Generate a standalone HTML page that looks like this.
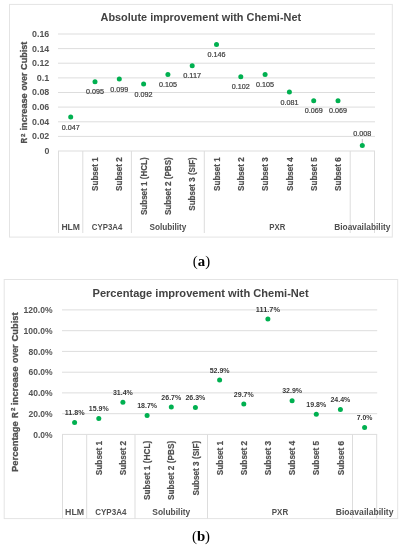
<!DOCTYPE html>
<html lang="en"><head><meta charset="utf-8"><title>Chemi-Net improvement</title>
<style>html,body{margin:0;padding:0;background:#fff}svg{display:block}text{font-family:"Liberation Sans",sans-serif}.cap{font-family:"Liberation Serif",serif}</style>
</head><body>
<svg width="403" height="550" viewBox="0 0 403 550">
<rect width="403" height="550" fill="#fff"/>
<rect x="9.5" y="4.4" width="382.8" height="232.7" fill="#fff" stroke="#e4e4e4" stroke-width="1"/>
<line x1="58.0" x2="375.0" y1="151.0" y2="151.0" stroke="#dddddd" stroke-width="1"/>
<text x="49.3" y="153.9" font-size="8.6" font-weight="bold" text-anchor="end" fill="#545454" textLength="4.9" lengthAdjust="spacingAndGlyphs">0</text>
<line x1="58.0" x2="375.0" y1="136.4" y2="136.4" stroke="#dddddd" stroke-width="1"/>
<text x="49.3" y="139.3" font-size="8.6" font-weight="bold" text-anchor="end" fill="#545454" textLength="17.3" lengthAdjust="spacingAndGlyphs">0.02</text>
<line x1="58.0" x2="375.0" y1="121.8" y2="121.8" stroke="#dddddd" stroke-width="1"/>
<text x="49.3" y="124.7" font-size="8.6" font-weight="bold" text-anchor="end" fill="#545454" textLength="17.3" lengthAdjust="spacingAndGlyphs">0.04</text>
<line x1="58.0" x2="375.0" y1="107.1" y2="107.1" stroke="#dddddd" stroke-width="1"/>
<text x="49.3" y="110.0" font-size="8.6" font-weight="bold" text-anchor="end" fill="#545454" textLength="17.3" lengthAdjust="spacingAndGlyphs">0.06</text>
<line x1="58.0" x2="375.0" y1="92.5" y2="92.5" stroke="#dddddd" stroke-width="1"/>
<text x="49.3" y="95.4" font-size="8.6" font-weight="bold" text-anchor="end" fill="#545454" textLength="17.3" lengthAdjust="spacingAndGlyphs">0.08</text>
<line x1="58.0" x2="375.0" y1="77.9" y2="77.9" stroke="#dddddd" stroke-width="1"/>
<text x="49.3" y="80.8" font-size="8.6" font-weight="bold" text-anchor="end" fill="#545454" textLength="12.6" lengthAdjust="spacingAndGlyphs">0.1</text>
<line x1="58.0" x2="375.0" y1="63.2" y2="63.2" stroke="#dddddd" stroke-width="1"/>
<text x="49.3" y="66.1" font-size="8.6" font-weight="bold" text-anchor="end" fill="#545454" textLength="17.3" lengthAdjust="spacingAndGlyphs">0.12</text>
<line x1="58.0" x2="375.0" y1="48.6" y2="48.6" stroke="#dddddd" stroke-width="1"/>
<text x="49.3" y="51.5" font-size="8.6" font-weight="bold" text-anchor="end" fill="#545454" textLength="17.3" lengthAdjust="spacingAndGlyphs">0.14</text>
<line x1="58.0" x2="375.0" y1="34.0" y2="34.0" stroke="#dddddd" stroke-width="1"/>
<text x="49.3" y="36.9" font-size="8.6" font-weight="bold" text-anchor="end" fill="#545454" textLength="17.3" lengthAdjust="spacingAndGlyphs">0.16</text>
<line x1="58.5" x2="58.5" y1="151.0" y2="233" stroke="#dddddd" stroke-width="1"/>
<line x1="82.8" x2="82.8" y1="151.0" y2="233" stroke="#dddddd" stroke-width="1"/>
<line x1="131.4" x2="131.4" y1="151.0" y2="233" stroke="#dddddd" stroke-width="1"/>
<line x1="204.3" x2="204.3" y1="151.0" y2="233" stroke="#dddddd" stroke-width="1"/>
<line x1="350.2" x2="350.2" y1="151.0" y2="233" stroke="#dddddd" stroke-width="1"/>
<line x1="374.5" x2="374.5" y1="151.0" y2="233" stroke="#dddddd" stroke-width="1"/>
<text x="200.8" y="21.1" font-size="11" font-weight="bold" text-anchor="middle" fill="#424242" textLength="200.6" lengthAdjust="spacingAndGlyphs">Absolute improvement with Chemi-Net</text>
<text x="27.4" y="143.6" font-size="9.2" font-weight="bold" text-anchor="start" fill="#505050" textLength="5.6" lengthAdjust="spacingAndGlyphs" transform="rotate(-90 27.4 143.6)" stroke="#505050" stroke-width="0.3">R</text>
<text x="24.6" y="136.9" font-size="6.1" font-weight="bold" text-anchor="start" fill="#505050" textLength="3.4" lengthAdjust="spacingAndGlyphs" transform="rotate(-90 24.6 136.9)" stroke="#505050" stroke-width="0.3">2</text>
<text x="27.4" y="130.5" font-size="9.2" font-weight="bold" text-anchor="start" fill="#505050" textLength="37.2" lengthAdjust="spacingAndGlyphs" transform="rotate(-90 27.4 130.5)" stroke="#505050" stroke-width="0.3">increase</text>
<text x="27.4" y="90.6" font-size="9.2" font-weight="bold" text-anchor="start" fill="#505050" textLength="17.8" lengthAdjust="spacingAndGlyphs" transform="rotate(-90 27.4 90.6)" stroke="#505050" stroke-width="0.3">over</text>
<text x="27.4" y="69.9" font-size="9.2" font-weight="bold" text-anchor="start" fill="#505050" textLength="28.2" lengthAdjust="spacingAndGlyphs" transform="rotate(-90 27.4 69.9)" stroke="#505050" stroke-width="0.3">Cubist</text>
<text x="98.2" y="157.3" font-size="8.6" font-weight="bold" text-anchor="end" fill="#505050" textLength="33.6" lengthAdjust="spacingAndGlyphs" transform="rotate(-90 98.2 157.3)" stroke="#505050" stroke-width="0.2">Subset 1</text>
<text x="122.5" y="157.3" font-size="8.6" font-weight="bold" text-anchor="end" fill="#505050" textLength="33.6" lengthAdjust="spacingAndGlyphs" transform="rotate(-90 122.5 157.3)" stroke="#505050" stroke-width="0.2">Subset 2</text>
<text x="146.8" y="157.3" font-size="8.6" font-weight="bold" text-anchor="end" fill="#505050" textLength="57.8" lengthAdjust="spacingAndGlyphs" transform="rotate(-90 146.8 157.3)" stroke="#505050" stroke-width="0.2">Subset 1 (HCL)</text>
<text x="171.1" y="157.3" font-size="8.6" font-weight="bold" text-anchor="end" fill="#505050" textLength="57.8" lengthAdjust="spacingAndGlyphs" transform="rotate(-90 171.1 157.3)" stroke="#505050" stroke-width="0.2">Subset 2 (PBS)</text>
<text x="195.4" y="157.3" font-size="8.6" font-weight="bold" text-anchor="end" fill="#505050" textLength="53.4" lengthAdjust="spacingAndGlyphs" transform="rotate(-90 195.4 157.3)" stroke="#505050" stroke-width="0.2">Subset 3 (SIF)</text>
<text x="219.7" y="157.3" font-size="8.6" font-weight="bold" text-anchor="end" fill="#505050" textLength="33.6" lengthAdjust="spacingAndGlyphs" transform="rotate(-90 219.7 157.3)" stroke="#505050" stroke-width="0.2">Subset 1</text>
<text x="244.0" y="157.3" font-size="8.6" font-weight="bold" text-anchor="end" fill="#505050" textLength="33.6" lengthAdjust="spacingAndGlyphs" transform="rotate(-90 244.0 157.3)" stroke="#505050" stroke-width="0.2">Subset 2</text>
<text x="268.3" y="157.3" font-size="8.6" font-weight="bold" text-anchor="end" fill="#505050" textLength="33.6" lengthAdjust="spacingAndGlyphs" transform="rotate(-90 268.3 157.3)" stroke="#505050" stroke-width="0.2">Subset 3</text>
<text x="292.6" y="157.3" font-size="8.6" font-weight="bold" text-anchor="end" fill="#505050" textLength="33.6" lengthAdjust="spacingAndGlyphs" transform="rotate(-90 292.6 157.3)" stroke="#505050" stroke-width="0.2">Subset 4</text>
<text x="316.9" y="157.3" font-size="8.6" font-weight="bold" text-anchor="end" fill="#505050" textLength="33.6" lengthAdjust="spacingAndGlyphs" transform="rotate(-90 316.9 157.3)" stroke="#505050" stroke-width="0.2">Subset 5</text>
<text x="341.2" y="157.3" font-size="8.6" font-weight="bold" text-anchor="end" fill="#505050" textLength="33.6" lengthAdjust="spacingAndGlyphs" transform="rotate(-90 341.2 157.3)" stroke="#505050" stroke-width="0.2">Subset 6</text>
<text x="70.7" y="230.2" font-size="8.6" font-weight="bold" text-anchor="middle" fill="#505050" textLength="18.6" lengthAdjust="spacingAndGlyphs">HLM</text>
<text x="107.1" y="230.2" font-size="8.6" font-weight="bold" text-anchor="middle" fill="#505050" textLength="30.5" lengthAdjust="spacingAndGlyphs">CYP3A4</text>
<text x="167.9" y="230.2" font-size="8.6" font-weight="bold" text-anchor="middle" fill="#505050" textLength="37.0" lengthAdjust="spacingAndGlyphs">Solubility</text>
<text x="277.3" y="230.2" font-size="8.6" font-weight="bold" text-anchor="middle" fill="#505050" textLength="16.0" lengthAdjust="spacingAndGlyphs">PXR</text>
<text x="362.3" y="230.2" font-size="8.6" font-weight="bold" text-anchor="middle" fill="#505050" textLength="56.3" lengthAdjust="spacingAndGlyphs">Bioavailability</text>
<circle cx="70.7" cy="116.9" r="2.5" fill="#00b050"/>
<text x="70.7" y="129.5" font-size="6.8" font-weight="normal" text-anchor="middle" fill="#404040" textLength="18.0" lengthAdjust="spacingAndGlyphs" stroke="#404040" stroke-width="0.2">0.047</text>
<circle cx="95.0" cy="81.8" r="2.5" fill="#00b050"/>
<text x="95.0" y="94.4" font-size="6.8" font-weight="normal" text-anchor="middle" fill="#404040" textLength="18.0" lengthAdjust="spacingAndGlyphs" stroke="#404040" stroke-width="0.2">0.095</text>
<circle cx="119.3" cy="78.9" r="2.5" fill="#00b050"/>
<text x="119.3" y="91.5" font-size="6.8" font-weight="normal" text-anchor="middle" fill="#404040" textLength="18.0" lengthAdjust="spacingAndGlyphs" stroke="#404040" stroke-width="0.2">0.099</text>
<circle cx="143.6" cy="84.0" r="2.5" fill="#00b050"/>
<text x="143.6" y="96.6" font-size="6.8" font-weight="normal" text-anchor="middle" fill="#404040" textLength="18.0" lengthAdjust="spacingAndGlyphs" stroke="#404040" stroke-width="0.2">0.092</text>
<circle cx="167.9" cy="74.5" r="2.5" fill="#00b050"/>
<text x="167.9" y="87.1" font-size="6.8" font-weight="normal" text-anchor="middle" fill="#404040" textLength="18.0" lengthAdjust="spacingAndGlyphs" stroke="#404040" stroke-width="0.2">0.105</text>
<circle cx="192.2" cy="65.7" r="2.5" fill="#00b050"/>
<text x="192.2" y="78.3" font-size="6.8" font-weight="normal" text-anchor="middle" fill="#404040" textLength="18.0" lengthAdjust="spacingAndGlyphs" stroke="#404040" stroke-width="0.2">0.117</text>
<circle cx="216.5" cy="44.5" r="2.5" fill="#00b050"/>
<text x="216.5" y="57.1" font-size="6.8" font-weight="normal" text-anchor="middle" fill="#404040" textLength="18.0" lengthAdjust="spacingAndGlyphs" stroke="#404040" stroke-width="0.2">0.146</text>
<circle cx="240.8" cy="76.7" r="2.5" fill="#00b050"/>
<text x="240.8" y="89.3" font-size="6.8" font-weight="normal" text-anchor="middle" fill="#404040" textLength="18.0" lengthAdjust="spacingAndGlyphs" stroke="#404040" stroke-width="0.2">0.102</text>
<circle cx="265.1" cy="74.5" r="2.5" fill="#00b050"/>
<text x="265.1" y="87.1" font-size="6.8" font-weight="normal" text-anchor="middle" fill="#404040" textLength="18.0" lengthAdjust="spacingAndGlyphs" stroke="#404040" stroke-width="0.2">0.105</text>
<circle cx="289.4" cy="92.1" r="2.5" fill="#00b050"/>
<text x="289.4" y="104.7" font-size="6.8" font-weight="normal" text-anchor="middle" fill="#404040" textLength="18.0" lengthAdjust="spacingAndGlyphs" stroke="#404040" stroke-width="0.2">0.081</text>
<circle cx="313.7" cy="100.8" r="2.5" fill="#00b050"/>
<text x="313.7" y="113.4" font-size="6.8" font-weight="normal" text-anchor="middle" fill="#404040" textLength="18.0" lengthAdjust="spacingAndGlyphs" stroke="#404040" stroke-width="0.2">0.069</text>
<circle cx="338.0" cy="100.8" r="2.5" fill="#00b050"/>
<text x="338.0" y="113.4" font-size="6.8" font-weight="normal" text-anchor="middle" fill="#404040" textLength="18.0" lengthAdjust="spacingAndGlyphs" stroke="#404040" stroke-width="0.2">0.069</text>
<line x1="362.3" x2="362.3" y1="139.0" y2="143.0" stroke="#a6a6a6" stroke-width="0.7"/>
<circle cx="362.3" cy="145.5" r="2.5" fill="#00b050"/>
<text x="362.3" y="136.3" font-size="6.8" font-weight="normal" text-anchor="middle" fill="#404040" textLength="18.0" lengthAdjust="spacingAndGlyphs" stroke="#404040" stroke-width="0.2">0.008</text>
<text x="201.5" y="266.2" font-size="14.8" font-weight="normal" text-anchor="middle" fill="#000" class="cap">(<tspan font-weight="bold">a</tspan>)</text>
<rect x="4.2" y="279.5" width="393.5" height="239.1" fill="#fff" stroke="#e4e4e4" stroke-width="1"/>
<line x1="62.0" x2="377.2" y1="434.4" y2="434.4" stroke="#dddddd" stroke-width="1"/>
<text x="52.6" y="437.6" font-size="8.8" font-weight="bold" text-anchor="end" fill="#545454" textLength="19.4" lengthAdjust="spacingAndGlyphs">0.0%</text>
<line x1="62.0" x2="377.2" y1="413.7" y2="413.7" stroke="#dddddd" stroke-width="1"/>
<text x="52.6" y="416.9" font-size="8.8" font-weight="bold" text-anchor="end" fill="#545454" textLength="24.2" lengthAdjust="spacingAndGlyphs">20.0%</text>
<line x1="62.0" x2="377.2" y1="392.9" y2="392.9" stroke="#dddddd" stroke-width="1"/>
<text x="52.6" y="396.1" font-size="8.8" font-weight="bold" text-anchor="end" fill="#545454" textLength="24.2" lengthAdjust="spacingAndGlyphs">40.0%</text>
<line x1="62.0" x2="377.2" y1="372.2" y2="372.2" stroke="#dddddd" stroke-width="1"/>
<text x="52.6" y="375.4" font-size="8.8" font-weight="bold" text-anchor="end" fill="#545454" textLength="24.2" lengthAdjust="spacingAndGlyphs">60.0%</text>
<line x1="62.0" x2="377.2" y1="351.4" y2="351.4" stroke="#dddddd" stroke-width="1"/>
<text x="52.6" y="354.6" font-size="8.8" font-weight="bold" text-anchor="end" fill="#545454" textLength="24.2" lengthAdjust="spacingAndGlyphs">80.0%</text>
<line x1="62.0" x2="377.2" y1="330.7" y2="330.7" stroke="#dddddd" stroke-width="1"/>
<text x="52.6" y="333.9" font-size="8.8" font-weight="bold" text-anchor="end" fill="#545454" textLength="29.0" lengthAdjust="spacingAndGlyphs">100.0%</text>
<line x1="62.0" x2="377.2" y1="309.9" y2="309.9" stroke="#dddddd" stroke-width="1"/>
<text x="52.6" y="313.1" font-size="8.8" font-weight="bold" text-anchor="end" fill="#545454" textLength="29.0" lengthAdjust="spacingAndGlyphs">120.0%</text>
<line x1="62.5" x2="62.5" y1="434.45" y2="518.6" stroke="#dddddd" stroke-width="1"/>
<line x1="86.7" x2="86.7" y1="434.45" y2="518.6" stroke="#dddddd" stroke-width="1"/>
<line x1="135.0" x2="135.0" y1="434.45" y2="518.6" stroke="#dddddd" stroke-width="1"/>
<line x1="207.5" x2="207.5" y1="434.45" y2="518.6" stroke="#dddddd" stroke-width="1"/>
<line x1="352.5" x2="352.5" y1="434.45" y2="518.6" stroke="#dddddd" stroke-width="1"/>
<line x1="376.7" x2="376.7" y1="434.45" y2="518.6" stroke="#dddddd" stroke-width="1"/>
<text x="200.6" y="297.3" font-size="11.3" font-weight="bold" text-anchor="middle" fill="#424242" textLength="216.2" lengthAdjust="spacingAndGlyphs">Percentage improvement with Chemi-Net</text>
<text x="17.8" y="471.9" font-size="9.4" font-weight="bold" text-anchor="start" fill="#505050" textLength="50.7" lengthAdjust="spacingAndGlyphs" transform="rotate(-90 17.8 471.9)" stroke="#505050" stroke-width="0.3">Percentage</text>
<text x="17.8" y="418" font-size="9.4" font-weight="bold" text-anchor="start" fill="#505050" textLength="5.8" lengthAdjust="spacingAndGlyphs" transform="rotate(-90 17.8 418)" stroke="#505050" stroke-width="0.3">R</text>
<text x="15.0" y="411.1" font-size="6.2" font-weight="bold" text-anchor="start" fill="#505050" textLength="3.4" lengthAdjust="spacingAndGlyphs" transform="rotate(-90 15.0 411.1)" stroke="#505050" stroke-width="0.3">2</text>
<text x="17.8" y="405.3" font-size="9.4" font-weight="bold" text-anchor="start" fill="#505050" textLength="38.8" lengthAdjust="spacingAndGlyphs" transform="rotate(-90 17.8 405.3)" stroke="#505050" stroke-width="0.3">increase</text>
<text x="17.8" y="362.9" font-size="9.4" font-weight="bold" text-anchor="start" fill="#505050" textLength="18.4" lengthAdjust="spacingAndGlyphs" transform="rotate(-90 17.8 362.9)" stroke="#505050" stroke-width="0.3">over</text>
<text x="17.8" y="341.4" font-size="9.4" font-weight="bold" text-anchor="start" fill="#505050" textLength="29.1" lengthAdjust="spacingAndGlyphs" transform="rotate(-90 17.8 341.4)" stroke="#505050" stroke-width="0.3">Cubist</text>
<text x="102.0" y="440.8" font-size="8.8" font-weight="bold" text-anchor="end" fill="#505050" textLength="34.4" lengthAdjust="spacingAndGlyphs" transform="rotate(-90 102.0 440.8)" stroke="#505050" stroke-width="0.2">Subset 1</text>
<text x="126.1" y="440.8" font-size="8.8" font-weight="bold" text-anchor="end" fill="#505050" textLength="34.4" lengthAdjust="spacingAndGlyphs" transform="rotate(-90 126.1 440.8)" stroke="#505050" stroke-width="0.2">Subset 2</text>
<text x="150.3" y="440.8" font-size="8.8" font-weight="bold" text-anchor="end" fill="#505050" textLength="59.2" lengthAdjust="spacingAndGlyphs" transform="rotate(-90 150.3 440.8)" stroke="#505050" stroke-width="0.2">Subset 1 (HCL)</text>
<text x="174.5" y="440.8" font-size="8.8" font-weight="bold" text-anchor="end" fill="#505050" textLength="59.2" lengthAdjust="spacingAndGlyphs" transform="rotate(-90 174.5 440.8)" stroke="#505050" stroke-width="0.2">Subset 2 (PBS)</text>
<text x="198.6" y="440.8" font-size="8.8" font-weight="bold" text-anchor="end" fill="#505050" textLength="54.7" lengthAdjust="spacingAndGlyphs" transform="rotate(-90 198.6 440.8)" stroke="#505050" stroke-width="0.2">Subset 3 (SIF)</text>
<text x="222.8" y="440.8" font-size="8.8" font-weight="bold" text-anchor="end" fill="#505050" textLength="34.4" lengthAdjust="spacingAndGlyphs" transform="rotate(-90 222.8 440.8)" stroke="#505050" stroke-width="0.2">Subset 1</text>
<text x="247.0" y="440.8" font-size="8.8" font-weight="bold" text-anchor="end" fill="#505050" textLength="34.4" lengthAdjust="spacingAndGlyphs" transform="rotate(-90 247.0 440.8)" stroke="#505050" stroke-width="0.2">Subset 2</text>
<text x="271.1" y="440.8" font-size="8.8" font-weight="bold" text-anchor="end" fill="#505050" textLength="34.4" lengthAdjust="spacingAndGlyphs" transform="rotate(-90 271.1 440.8)" stroke="#505050" stroke-width="0.2">Subset 3</text>
<text x="295.3" y="440.8" font-size="8.8" font-weight="bold" text-anchor="end" fill="#505050" textLength="34.4" lengthAdjust="spacingAndGlyphs" transform="rotate(-90 295.3 440.8)" stroke="#505050" stroke-width="0.2">Subset 4</text>
<text x="319.5" y="440.8" font-size="8.8" font-weight="bold" text-anchor="end" fill="#505050" textLength="34.4" lengthAdjust="spacingAndGlyphs" transform="rotate(-90 319.5 440.8)" stroke="#505050" stroke-width="0.2">Subset 5</text>
<text x="343.6" y="440.8" font-size="8.8" font-weight="bold" text-anchor="end" fill="#505050" textLength="34.4" lengthAdjust="spacingAndGlyphs" transform="rotate(-90 343.6 440.8)" stroke="#505050" stroke-width="0.2">Subset 6</text>
<text x="74.6" y="515" font-size="8.8" font-weight="bold" text-anchor="middle" fill="#505050" textLength="19.0" lengthAdjust="spacingAndGlyphs">HLM</text>
<text x="110.8" y="515" font-size="8.8" font-weight="bold" text-anchor="middle" fill="#505050" textLength="31.2" lengthAdjust="spacingAndGlyphs">CYP3A4</text>
<text x="171.3" y="515" font-size="8.8" font-weight="bold" text-anchor="middle" fill="#505050" textLength="37.9" lengthAdjust="spacingAndGlyphs">Solubility</text>
<text x="280.0" y="515" font-size="8.8" font-weight="bold" text-anchor="middle" fill="#505050" textLength="16.4" lengthAdjust="spacingAndGlyphs">PXR</text>
<text x="364.6" y="515" font-size="8.8" font-weight="bold" text-anchor="middle" fill="#505050" textLength="57.7" lengthAdjust="spacingAndGlyphs">Bioavailability</text>
<circle cx="74.6" cy="422.6" r="2.5" fill="#00b050"/>
<text x="74.6" y="415.1" font-size="7" font-weight="bold" text-anchor="middle" fill="#383838" textLength="19.9" lengthAdjust="spacingAndGlyphs">11.8%</text>
<circle cx="98.8" cy="418.4" r="2.5" fill="#00b050"/>
<text x="98.8" y="410.9" font-size="7" font-weight="bold" text-anchor="middle" fill="#383838" textLength="19.9" lengthAdjust="spacingAndGlyphs">15.9%</text>
<circle cx="122.9" cy="402.3" r="2.5" fill="#00b050"/>
<text x="122.9" y="394.8" font-size="7" font-weight="bold" text-anchor="middle" fill="#383838" textLength="19.9" lengthAdjust="spacingAndGlyphs">31.4%</text>
<circle cx="147.1" cy="415.4" r="2.5" fill="#00b050"/>
<text x="147.1" y="407.9" font-size="7" font-weight="bold" text-anchor="middle" fill="#383838" textLength="19.9" lengthAdjust="spacingAndGlyphs">18.7%</text>
<circle cx="171.3" cy="407.1" r="2.5" fill="#00b050"/>
<text x="171.3" y="399.6" font-size="7" font-weight="bold" text-anchor="middle" fill="#383838" textLength="19.9" lengthAdjust="spacingAndGlyphs">26.7%</text>
<circle cx="195.4" cy="407.6" r="2.5" fill="#00b050"/>
<text x="195.4" y="400.1" font-size="7" font-weight="bold" text-anchor="middle" fill="#383838" textLength="19.9" lengthAdjust="spacingAndGlyphs">26.3%</text>
<circle cx="219.6" cy="380.0" r="2.5" fill="#00b050"/>
<text x="219.6" y="372.5" font-size="7" font-weight="bold" text-anchor="middle" fill="#383838" textLength="19.9" lengthAdjust="spacingAndGlyphs">52.9%</text>
<circle cx="243.8" cy="404.0" r="2.5" fill="#00b050"/>
<text x="243.8" y="396.5" font-size="7" font-weight="bold" text-anchor="middle" fill="#383838" textLength="19.9" lengthAdjust="spacingAndGlyphs">29.7%</text>
<circle cx="267.9" cy="319.0" r="2.5" fill="#00b050"/>
<text x="267.9" y="311.5" font-size="7" font-weight="bold" text-anchor="middle" fill="#383838" textLength="24.1" lengthAdjust="spacingAndGlyphs">111.7%</text>
<circle cx="292.1" cy="400.7" r="2.5" fill="#00b050"/>
<text x="292.1" y="393.2" font-size="7" font-weight="bold" text-anchor="middle" fill="#383838" textLength="19.9" lengthAdjust="spacingAndGlyphs">32.9%</text>
<circle cx="316.3" cy="414.3" r="2.5" fill="#00b050"/>
<text x="316.3" y="406.8" font-size="7" font-weight="bold" text-anchor="middle" fill="#383838" textLength="19.9" lengthAdjust="spacingAndGlyphs">19.8%</text>
<circle cx="340.4" cy="409.5" r="2.5" fill="#00b050"/>
<text x="340.4" y="402.0" font-size="7" font-weight="bold" text-anchor="middle" fill="#383838" textLength="19.9" lengthAdjust="spacingAndGlyphs">24.4%</text>
<circle cx="364.6" cy="427.6" r="2.5" fill="#00b050"/>
<text x="364.6" y="420.1" font-size="7" font-weight="bold" text-anchor="middle" fill="#383838" textLength="15.7" lengthAdjust="spacingAndGlyphs">7.0%</text>
<text x="201" y="541.4" font-size="14.8" font-weight="normal" text-anchor="middle" fill="#000" class="cap">(<tspan font-weight="bold">b</tspan>)</text>
</svg></body></html>
